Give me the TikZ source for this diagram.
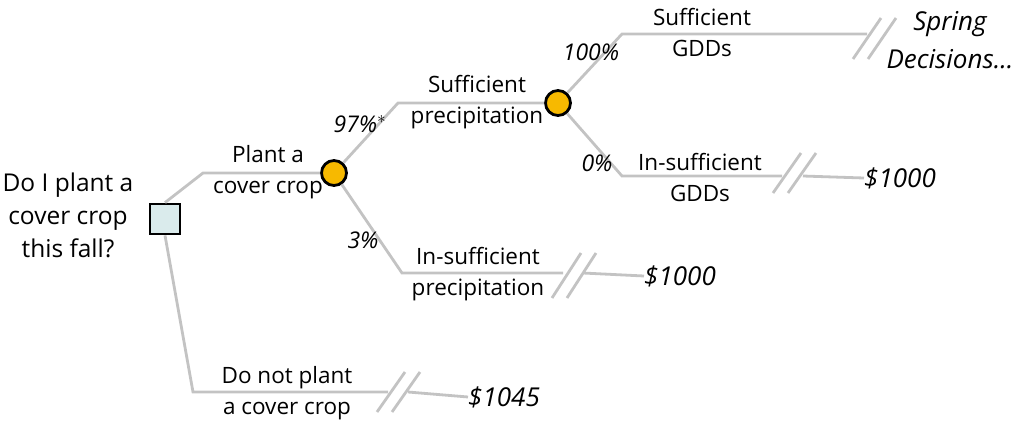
\documentclass[tikz,border=0pt]{standalone}
\usepackage{fontspec}
\setmainfont{Open Sans}
\definecolor{branch}{HTML}{C3C3C3}
\definecolor{chance}{HTML}{F7B900}
\definecolor{decision}{HTML}{DAEBEC}
\begin{document}
\begin{tikzpicture}[x=1pt,y=-1pt,
  br/.style={draw=branch,line width=2.8pt},
  brk/.style={draw=branch,line width=2.8pt},
  chancenode/.style={circle,draw=black,line width=2.8pt,fill=chance,minimum size=25pt,inner sep=0pt},
  decnode/.style={rectangle,draw=black,line width=2.8pt,fill=decision,minimum size=30pt,inner sep=0pt},
  lbl/.style={align=center,font=\fontsize{22.5}{31}\selectfont,inner sep=0pt},
  pct/.style={font=\fontsize{23}{26}\selectfont\itshape,inner sep=0pt},
  val/.style={font=\fontsize{26}{30}\selectfont\itshape,inner sep=0pt,anchor=west},
  q/.style={align=center,font=\fontsize{24.5}{33}\selectfont,inner sep=0pt}]
\useasboundingbox (0,0) rectangle (1013,424);

% nodes
\node[decnode] (sq) at (165,219) {};
\node[chancenode] (c1) at (334,173) {};
\node[chancenode] (c2) at (558,103) {};

\coordinate (a1) at (203,173);
\coordinate (a2) at (398,103);
\coordinate (a3) at (402,273);
\coordinate (a4) at (622,34);
\coordinate (a5) at (622,176);
\coordinate (a6) at (193,392);

% break points
\coordinate (b1s) at (867,34);
\coordinate (b2s) at (782,176);
\coordinate (b2e) at (803,176);
\coordinate (b3s) at (563,273);
\coordinate (b3e) at (583,273);
\coordinate (b4s) at (388,392);
\coordinate (b4e) at (408,392);

\node[val] (v2) at (864,178) {\$1000};
\node[val] (v3) at (644,276) {\$1000};
\node[val] (v4) at (468,397) {\$1045};
\node[align=center,font=\fontsize{26}{38}\selectfont\itshape,inner sep=0pt] (v1) at (950,40) {Spring\\Decisions...};

% connectors
\draw[br] (sq.north) -- (a1) -- (c1);
\draw[br] (c1) -- (a2) -- (c2);
\draw[br] (c1) -- (a3) -- (b3s);
\draw[br] (b3e) -- (v3.west);
\draw[br] (c2) -- (a4) -- (b1s);
\draw[br] (c2) -- (a5) -- (b2s);
\draw[br] (b2e) -- (v2.west);
\draw[br] (sq.south) -- (a6) -- (b4s);
\draw[br] (b4e) -- (v4.west);

% break marks
\draw[brk] (853,59) -- (881,18);
\draw[brk] (868,59) -- (896,18);
\draw[brk] (773,193) -- (801,153);
\draw[brk] (788,193) -- (816,153);
\draw[brk] (552,298) -- (581,253);
\draw[brk] (567,298) -- (596,253);
\draw[brk] (377,412) -- (405,372);
\draw[brk] (392,412) -- (420,372);

% labels
\node[q] (qt) at (68,215) {Do I plant a\\cover crop\\this fall?};
\node[lbl] (l1) at (268,172) {Plant a\\cover crop};
\node[lbl] (l2) at (477,102) {Sufficient\\precipitation};
\node[lbl] (l3) at (478,274) {In-sufficient\\precipitation};
\node[lbl] (l4) at (702,32) {Sufficient\\GDDs};
\node[lbl] (l5) at (700,177) {In-sufficient\\GDDs};
\node[lbl] (l6) at (287,393) {Do not plant\\a cover crop};

\node[pct] (p1) at (360,124) {97\%$^{*}$};
\node[pct] (p2) at (363,240) {3\%};
\node[pct] (p3) at (591,52) {100\%};
\node[pct] (p4) at (597,163) {0\%};
\end{tikzpicture}
\end{document}
